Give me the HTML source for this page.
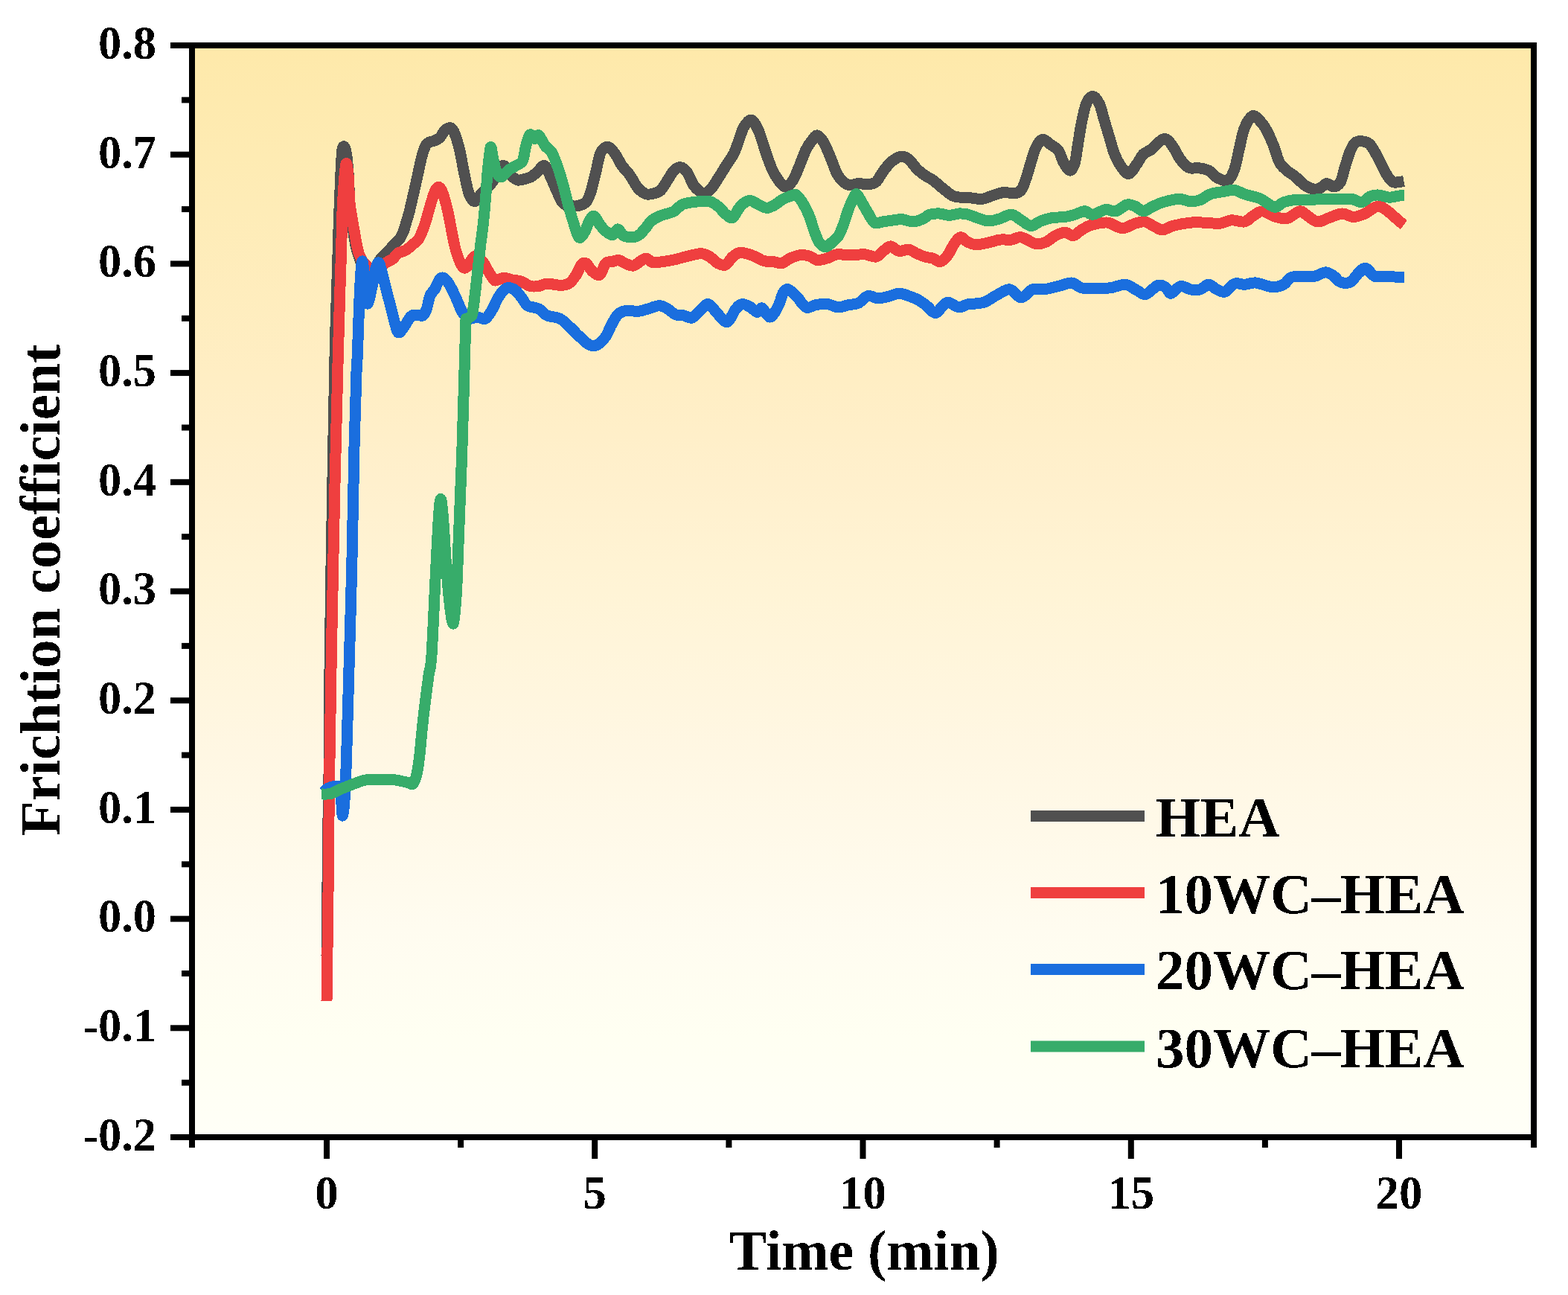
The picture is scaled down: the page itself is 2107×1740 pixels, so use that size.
<!DOCTYPE html><html><head><meta charset="utf-8"><title>Friction coefficient vs time</title><style>
html,body{margin:0;padding:0;background:#fff;}body{width:2107px;height:1740px;overflow:hidden;}
svg{display:block;}text{font-family:"Liberation Serif","Times New Roman",serif;font-weight:bold;fill:#000;}
</style></head><body>
<svg width="2107" height="1740" viewBox="0 0 2107 1740">
<defs><linearGradient id="bg" x1="0" y1="0" x2="0" y2="1">
<stop offset="0" stop-color="rgb(254, 233, 170)"/>
<stop offset="0.15" stop-color="rgb(254, 236, 183)"/>
<stop offset="0.306" stop-color="rgb(255, 238, 196)"/>
<stop offset="0.4" stop-color="rgb(255, 240, 205)"/>
<stop offset="0.5" stop-color="rgb(255, 244, 214)"/>
<stop offset="0.647" stop-color="rgb(255, 247, 227)"/>
<stop offset="0.81" stop-color="rgb(255, 252, 240)"/>
<stop offset="0.91" stop-color="rgb(255, 255, 242)"/>
<stop offset="0.98" stop-color="rgb(255, 255, 246)"/>
<stop offset="1" stop-color="rgb(255, 255, 247)"/>
</linearGradient>
<filter id="crisp" x="0" y="0" width="1" height="1" color-interpolation-filters="sRGB"><feComponentTransfer><feFuncA type="discrete" tableValues="0 1"/></feComponentTransfer></filter>
</defs>
<rect x="0" y="0" width="2107" height="1740" fill="#fff"/>
<rect x="258" y="61" width="1803" height="1467" fill="url(#bg)"/>
<g fill="none" stroke-width="15" stroke-linejoin="round" stroke-linecap="butt" shape-rendering="crispEdges">
<path stroke="#505050" d="M439.0,1284.0 C439.3,1253.3 440.4,1144.0 441.0,1100.0 C441.6,1056.0 442.0,1053.3 442.3,1020.0 C442.6,986.7 442.4,953.3 443.0,900.0 C443.6,846.7 444.8,770.0 446.0,700.0 C447.2,630.0 448.8,534.0 450.0,480.0 C451.2,426.0 452.1,406.8 453.0,376.0 C453.9,345.2 454.6,318.0 455.4,295.0 C456.2,272.0 457.0,253.0 457.7,238.0 C458.4,223.0 458.9,211.8 459.5,205.0 C460.1,198.2 460.6,197.8 461.3,197.0 C462.1,196.2 463.1,197.0 464.0,200.0 C464.9,203.0 465.8,208.3 466.5,215.0 C467.2,221.7 467.9,230.5 468.5,240.0 C469.1,249.5 469.1,261.0 470.0,272.0 C470.9,283.0 472.7,296.3 474.0,306.0 C475.3,315.7 476.8,324.2 478.0,330.0 C479.2,335.8 479.8,337.3 481.0,341.0 C482.2,344.7 483.3,348.8 485.0,352.0 C486.7,355.2 488.7,358.2 491.0,360.0 C493.3,361.8 496.5,363.5 499.0,363.0 C501.5,362.5 503.8,359.7 506.0,357.0 C508.2,354.3 509.8,349.8 512.0,347.0 C514.2,344.2 516.7,342.4 519.0,340.0 C521.3,337.6 523.9,334.9 525.9,332.7 C527.9,330.5 529.2,328.9 531.0,327.0 C532.8,325.1 535.0,324.1 536.9,321.2 C538.8,318.3 541.1,313.6 542.6,309.7 C544.1,305.8 544.9,301.8 546.0,298.0 C547.1,294.2 548.0,292.4 549.5,286.7 C551.0,281.0 553.1,271.3 554.9,263.6 C556.7,255.9 558.4,248.3 560.1,240.6 C561.8,232.9 563.8,223.3 565.1,217.6 C566.4,211.8 566.8,209.9 568.0,206.1 C569.2,202.2 571.1,197.0 572.6,194.5 C574.1,192.0 575.3,191.8 577.0,191.0 C578.7,190.2 581.1,190.1 582.9,189.4 C584.7,188.7 586.5,188.0 588.0,187.0 C589.5,186.0 590.6,185.4 592.1,183.6 C593.6,181.8 595.5,177.8 597.0,176.0 C598.5,174.2 599.8,173.3 601.3,172.6 C602.8,171.9 604.5,171.1 606.0,172.0 C607.5,172.9 608.6,173.6 610.4,178.0 C612.2,182.4 614.8,189.6 617.0,198.5 C619.2,207.4 621.3,221.1 623.5,231.3 C625.7,241.5 627.6,253.1 630.0,259.7 C632.4,266.3 635.1,270.3 637.7,270.7 C640.3,271.1 642.3,265.3 645.4,262.0 C648.5,258.7 653.0,254.7 656.3,251.0 C659.6,247.3 661.7,244.8 665.0,240.0 C668.3,235.2 672.3,223.2 676.0,222.5 C679.7,221.8 683.7,232.4 687.0,235.7 C690.3,238.9 692.4,241.3 695.7,242.0 C699.0,242.7 703.8,240.7 706.7,240.0 C709.6,239.3 710.5,239.3 713.0,237.9 C715.5,236.5 718.8,233.9 721.9,231.3 C725.0,228.7 728.7,221.4 731.7,222.5 C734.7,223.6 737.4,232.6 740.0,238.0 C742.6,243.4 745.0,249.5 747.5,255.0 C750.0,260.5 752.4,267.3 755.0,271.0 C757.6,274.7 760.5,276.0 763.0,277.0 C765.5,278.0 767.7,277.1 770.0,277.0 C772.3,276.9 774.1,277.4 777.0,276.5 C779.9,275.6 784.7,274.7 787.5,271.5 C790.3,268.3 791.8,264.2 794.0,257.5 C796.2,250.8 798.5,240.1 800.7,231.3 C802.9,222.6 804.5,210.7 807.2,205.0 C809.9,199.3 813.7,197.0 817.0,197.4 C820.3,197.8 823.8,203.0 826.9,207.2 C830.0,211.4 832.4,217.8 835.7,222.5 C839.0,227.2 843.0,230.6 846.6,235.7 C850.2,240.8 853.9,248.8 857.5,253.0 C861.1,257.2 864.9,259.7 868.5,260.8 C872.1,261.9 876.1,260.6 879.4,259.7 C882.7,258.8 885.3,258.3 888.2,255.4 C891.1,252.5 894.1,246.6 897.0,242.2 C899.9,237.8 902.8,232.0 905.7,229.1 C908.6,226.2 911.5,224.3 914.4,224.7 C917.3,225.1 920.3,227.3 923.2,231.3 C926.1,235.3 929.1,244.4 932.0,248.8 C934.9,253.2 938.2,255.7 940.7,257.5 C943.2,259.3 944.8,260.4 947.3,259.7 C949.8,259.0 953.1,256.5 956.0,253.2 C958.9,249.9 961.5,245.1 964.8,240.0 C968.1,234.9 972.1,228.3 975.7,222.5 C979.4,216.7 983.4,211.9 986.7,205.0 C990.0,198.1 993.2,186.8 995.4,181.0 C997.6,175.2 997.6,173.3 1000.0,170.0 C1002.4,166.7 1006.5,160.2 1009.8,161.3 C1013.1,162.4 1016.6,169.7 1019.7,176.6 C1022.8,183.5 1025.5,194.4 1028.4,202.8 C1031.3,211.2 1034.3,220.3 1037.2,226.9 C1040.1,233.5 1042.9,238.2 1046.0,242.2 C1049.1,246.2 1052.5,251.0 1055.8,251.0 C1059.1,251.0 1062.5,246.9 1065.6,242.2 C1068.7,237.4 1071.5,229.4 1074.4,222.5 C1077.3,215.6 1080.3,206.5 1083.2,200.7 C1086.1,194.9 1089.4,190.6 1091.9,187.5 C1094.5,184.4 1096.0,181.3 1098.5,182.0 C1101.0,182.7 1104.3,187.0 1107.2,191.9 C1110.1,196.8 1113.1,204.7 1116.0,211.6 C1118.9,218.5 1121.8,228.0 1124.7,233.5 C1127.6,239.0 1130.6,241.8 1133.5,244.4 C1136.4,247.0 1138.9,248.4 1142.2,248.8 C1145.5,249.2 1149.2,246.8 1153.2,246.6 C1157.2,246.4 1162.3,248.1 1166.3,247.7 C1170.3,247.3 1173.9,247.1 1177.2,244.4 C1180.5,241.7 1182.7,235.7 1186.0,231.3 C1189.3,226.9 1192.9,221.7 1196.9,218.2 C1200.9,214.7 1206.0,211.2 1210.0,210.5 C1214.0,209.8 1217.3,211.1 1221.0,213.8 C1224.7,216.5 1228.3,223.2 1232.0,226.9 C1235.7,230.6 1239.3,233.1 1242.9,235.7 C1246.5,238.2 1249.8,239.3 1253.8,242.2 C1257.8,245.1 1262.6,249.7 1267.0,253.2 C1271.4,256.7 1276.0,261.0 1280.0,263.0 C1284.0,265.0 1287.7,264.8 1291.0,265.2 C1294.3,265.6 1295.2,264.8 1300.0,265.2 C1304.8,265.6 1314.2,267.8 1319.7,267.4 C1325.2,267.0 1328.1,264.5 1332.8,263.0 C1337.5,261.5 1343.0,259.2 1348.1,258.6 C1353.2,258.1 1359.5,260.2 1363.5,259.7 C1367.5,259.2 1369.7,258.7 1372.2,255.4 C1374.8,252.1 1376.6,246.2 1378.8,240.0 C1381.0,233.8 1383.1,225.1 1385.3,218.2 C1387.5,211.3 1389.3,203.6 1391.9,198.5 C1394.5,193.4 1397.4,188.2 1400.7,187.5 C1404.0,186.8 1408.0,191.4 1411.6,194.0 C1415.2,196.6 1419.6,198.8 1422.5,202.8 C1425.4,206.8 1426.5,213.8 1429.1,218.2 C1431.7,222.6 1435.4,229.1 1437.9,229.1 C1440.5,229.1 1442.6,224.4 1444.4,218.2 C1446.2,212.0 1447.3,200.7 1448.8,191.9 C1450.3,183.1 1451.4,174.3 1453.2,165.6 C1455.0,156.8 1457.2,145.4 1459.7,139.4 C1462.2,133.4 1465.6,129.5 1468.5,129.5 C1471.4,129.5 1474.7,134.1 1477.2,139.4 C1479.8,144.7 1481.6,154.0 1483.8,161.3 C1486.0,168.6 1488.2,175.9 1490.4,183.2 C1492.6,190.5 1494.4,198.4 1496.9,205.0 C1499.5,211.6 1502.4,217.8 1505.7,222.5 C1509.0,227.2 1512.9,233.8 1516.6,233.5 C1520.2,233.2 1524.3,224.8 1527.6,220.4 C1530.9,216.0 1533.0,210.5 1536.3,207.2 C1539.6,203.9 1544.0,203.2 1547.3,200.7 C1550.6,198.1 1552.9,194.3 1556.0,191.9 C1559.1,189.5 1562.6,185.7 1565.9,186.4 C1569.2,187.1 1572.6,192.1 1575.7,196.3 C1578.8,200.5 1581.6,207.2 1584.5,211.6 C1587.4,216.0 1590.6,220.1 1593.2,222.5 C1595.8,224.9 1597.0,225.4 1600.0,226.0 C1603.0,226.6 1607.0,225.3 1611.0,225.8 C1615.0,226.3 1620.4,227.3 1624.0,229.1 C1627.6,230.9 1630.0,234.8 1632.8,236.8 C1635.5,238.8 1637.6,240.2 1640.5,241.1 C1643.4,242.0 1647.2,244.6 1650.3,242.2 C1653.4,239.8 1656.5,234.2 1659.0,226.9 C1661.5,219.6 1663.4,207.6 1665.6,198.5 C1667.8,189.4 1669.3,179.3 1672.2,172.2 C1675.1,165.1 1679.6,157.2 1683.2,155.8 C1686.8,154.4 1690.7,160.0 1694.0,163.5 C1697.3,167.0 1699.9,171.1 1702.8,176.6 C1705.7,182.1 1708.8,189.4 1711.6,196.3 C1714.3,203.2 1716.4,212.7 1719.3,218.2 C1722.2,223.7 1725.6,226.0 1729.1,229.1 C1732.5,232.2 1736.0,233.5 1740.0,236.8 C1744.0,240.1 1748.8,245.9 1753.2,248.8 C1757.6,251.7 1762.7,253.8 1766.3,254.3 C1769.9,254.8 1772.3,253.3 1775.0,252.0 C1777.7,250.7 1779.8,246.8 1782.7,246.6 C1785.6,246.4 1789.5,251.4 1792.6,251.0 C1795.7,250.6 1798.8,249.2 1801.3,244.4 C1803.8,239.7 1805.7,229.4 1807.9,222.5 C1810.1,215.6 1812.2,207.9 1814.4,202.8 C1816.6,197.7 1818.4,194.1 1821.0,191.9 C1823.6,189.7 1826.5,189.3 1829.8,189.7 C1833.1,190.0 1837.1,190.3 1840.7,194.0 C1844.3,197.7 1847.9,205.0 1851.6,211.6 C1855.2,218.2 1859.3,228.0 1862.6,233.5 C1865.9,239.0 1868.4,242.6 1871.3,244.4 C1874.2,246.2 1877.5,244.6 1880.0,244.4 C1882.5,244.2 1885.4,243.7 1886.5,243.5"/>
<path stroke="#EF3F3F" d="M439.0,1345.0 C439.3,1320.8 440.5,1240.8 441.0,1200.0 C441.5,1159.2 441.7,1130.0 442.0,1100.0 C442.3,1070.0 442.4,1056.7 443.0,1020.0 C443.6,983.3 444.1,941.7 445.3,880.0 C446.5,818.3 448.5,717.2 450.0,650.0 C451.5,582.8 453.1,522.7 454.3,477.0 C455.5,431.3 456.6,400.5 457.3,376.0 C458.1,351.5 458.4,343.5 458.8,330.0 C459.2,316.5 459.1,308.5 459.6,295.0 C460.1,281.5 461.1,261.5 462.0,249.0 C462.9,236.5 464.0,222.3 465.0,220.0 C466.0,217.7 467.2,226.3 468.0,235.0 C468.8,243.7 468.8,260.0 470.0,272.0 C471.2,284.0 473.9,297.3 475.5,307.0 C477.1,316.7 478.5,324.3 479.6,330.0 C480.8,335.7 481.0,337.3 482.4,341.0 C483.8,344.7 485.6,348.8 488.0,352.0 C490.4,355.2 494.2,358.8 497.0,360.0 C499.8,361.2 502.0,359.8 505.0,359.0 C508.0,358.2 512.3,356.2 515.0,355.0 C517.7,353.8 518.8,352.8 521.0,351.6 C523.2,350.4 525.7,349.6 528.0,347.7 C530.3,345.8 532.1,341.9 535.0,340.0 C537.9,338.1 541.8,338.3 545.2,336.2 C548.7,334.1 552.9,330.0 555.7,327.6 C558.5,325.2 560.1,324.6 562.0,322.0 C563.9,319.4 565.3,316.0 567.0,312.0 C568.7,308.0 570.1,304.2 572.0,298.0 C573.9,291.8 576.5,281.7 578.5,275.0 C580.5,268.3 582.3,261.9 584.0,258.0 C585.7,254.1 587.1,251.8 588.7,251.5 C590.3,251.2 591.7,252.1 593.5,256.0 C595.3,259.9 597.9,268.5 599.6,275.0 C601.4,281.5 602.6,288.2 604.0,295.0 C605.4,301.8 606.5,308.8 608.0,316.0 C609.5,323.2 610.8,331.0 613.0,338.0 C615.2,345.0 618.8,354.6 621.3,358.0 C623.8,361.4 625.3,360.4 627.9,358.2 C630.5,356.0 633.8,346.7 636.6,345.0 C639.5,343.3 642.6,346.3 645.0,348.0 C647.4,349.7 649.2,352.3 651.0,355.0 C652.8,357.7 654.3,361.2 656.0,364.0 C657.7,366.8 659.5,369.8 661.0,372.0 C662.5,374.2 663.5,376.4 665.0,377.0 C666.5,377.6 668.2,376.1 670.0,375.5 C671.8,374.9 674.2,373.9 676.0,373.6 C677.8,373.4 679.0,373.6 681.0,374.0 C683.0,374.4 685.0,375.4 688.0,376.0 C691.0,376.6 696.0,376.8 699.0,377.6 C702.0,378.4 703.8,379.9 706.0,381.0 C708.2,382.1 709.0,383.9 712.0,384.5 C715.0,385.1 720.2,385.1 724.0,384.5 C727.8,383.9 729.9,381.4 735.0,381.2 C740.1,381.0 749.6,383.6 754.7,383.4 C759.8,383.2 762.3,382.4 765.6,380.0 C768.9,377.6 771.8,373.2 774.4,369.2 C777.0,365.2 778.8,358.6 781.0,356.0 C783.2,353.4 785.0,352.3 787.5,353.8 C790.0,355.3 793.2,362.2 796.3,364.8 C799.4,367.4 803.2,371.0 806.1,369.2 C809.0,367.4 811.1,356.7 813.8,353.8 C816.5,350.9 819.6,352.3 822.5,351.6 C825.4,350.9 828.4,349.1 831.3,349.5 C834.2,349.9 836.7,352.5 840.0,353.8 C843.3,355.1 847.7,357.5 851.0,357.1 C854.3,356.7 856.8,353.2 859.7,351.6 C862.6,350.0 865.6,347.1 868.5,347.3 C871.4,347.5 873.6,352.0 877.2,352.7 C880.9,353.4 886.0,352.1 890.4,351.6 C894.8,351.1 899.1,350.4 903.5,349.5 C907.9,348.6 912.2,347.3 916.6,346.2 C921.0,345.1 925.4,343.8 929.8,342.9 C934.2,342.0 938.9,340.3 942.9,340.7 C946.9,341.1 950.1,342.8 953.8,345.0 C957.4,347.2 961.3,352.0 964.8,353.8 C968.3,355.6 971.3,357.5 974.6,356.0 C977.9,354.5 981.4,347.7 984.5,345.0 C987.6,342.3 990.6,340.4 993.2,339.6 C995.8,338.8 996.7,339.3 1000.0,340.0 C1003.3,340.7 1008.6,342.2 1013.0,344.0 C1017.4,345.8 1021.9,349.2 1026.3,350.5 C1030.7,351.8 1035.4,351.1 1039.4,351.6 C1043.4,352.2 1046.7,354.5 1050.3,353.8 C1053.9,353.1 1057.3,349.1 1061.3,347.3 C1065.3,345.5 1070.0,343.4 1074.4,342.9 C1078.8,342.3 1083.5,342.9 1087.5,344.0 C1091.5,345.1 1094.1,349.1 1098.5,349.5 C1102.9,349.9 1109.4,347.5 1113.8,346.2 C1118.2,344.9 1120.0,342.4 1124.7,341.8 C1129.4,341.2 1136.0,342.9 1142.2,342.9 C1148.4,342.9 1156.1,341.4 1161.9,341.8 C1167.7,342.2 1172.8,345.9 1177.2,345.0 C1181.6,344.1 1184.9,338.7 1188.2,336.3 C1191.5,333.9 1193.7,330.7 1197.0,330.9 C1200.3,331.1 1203.9,336.7 1207.9,337.4 C1211.9,338.1 1217.0,334.6 1221.0,335.2 C1225.0,335.8 1228.3,339.1 1232.0,340.7 C1235.7,342.3 1239.3,343.9 1242.9,345.0 C1246.5,346.1 1250.3,346.2 1253.8,347.3 C1257.3,348.4 1260.4,352.3 1263.7,351.6 C1267.0,350.9 1270.4,346.9 1273.5,342.9 C1276.6,338.9 1279.4,331.6 1282.3,327.6 C1285.2,323.6 1288.0,319.2 1291.0,318.8 C1294.0,318.4 1296.7,323.4 1300.0,325.0 C1303.3,326.6 1306.6,328.4 1311.0,328.7 C1315.4,328.9 1320.8,327.6 1326.3,326.5 C1331.8,325.4 1338.3,322.8 1343.8,322.1 C1349.2,321.4 1354.3,322.7 1359.0,322.1 C1363.7,321.6 1366.7,317.9 1372.2,318.8 C1377.7,319.7 1386.4,326.5 1391.9,327.6 C1397.4,328.7 1400.6,327.2 1405.0,325.4 C1409.4,323.6 1413.8,318.8 1418.2,316.6 C1422.6,314.4 1427.3,312.3 1431.3,312.3 C1435.3,312.3 1438.5,317.2 1442.2,316.6 C1445.9,316.1 1449.2,311.4 1453.2,309.0 C1457.2,306.6 1460.5,304.0 1466.3,302.4 C1472.1,300.8 1481.3,298.4 1488.2,299.1 C1495.1,299.8 1501.7,306.6 1507.9,306.8 C1514.1,307.0 1520.3,301.7 1525.4,300.2 C1530.5,298.7 1534.1,297.3 1538.5,298.0 C1542.9,298.7 1547.6,302.8 1551.6,304.6 C1555.6,306.4 1558.6,309.2 1562.6,309.0 C1566.6,308.8 1569.5,305.1 1575.7,303.5 C1581.9,301.9 1593.0,299.8 1600.0,299.1 C1607.0,298.4 1610.9,298.9 1617.5,299.1 C1624.1,299.3 1633.2,300.8 1639.4,300.2 C1645.6,299.6 1649.2,296.2 1654.7,295.8 C1660.2,295.4 1667.5,298.9 1672.2,298.0 C1677.0,297.1 1679.2,292.8 1683.2,290.4 C1687.2,288.0 1691.6,283.8 1696.3,283.8 C1701.0,283.8 1706.1,288.8 1711.6,290.4 C1717.1,292.0 1723.3,294.8 1729.1,293.7 C1734.9,292.6 1741.9,284.4 1746.6,283.8 C1751.3,283.2 1753.5,288.0 1757.5,290.4 C1761.5,292.8 1766.0,297.6 1770.7,298.0 C1775.5,298.4 1780.5,294.4 1786.0,292.6 C1791.5,290.8 1798.0,287.2 1803.5,287.0 C1809.0,286.8 1813.7,291.5 1818.8,291.5 C1823.9,291.5 1828.6,289.4 1834.1,287.0 C1839.6,284.6 1846.5,277.7 1851.6,277.2 C1856.7,276.7 1860.1,280.5 1864.8,283.8 C1869.5,287.1 1876.4,294.0 1880.0,297.0 C1883.6,300.0 1885.4,301.2 1886.5,302.0"/>
<path stroke="#1A6EDE" d="M435.0,1064.5 C435.8,1063.7 437.7,1060.8 440.0,1059.5 C442.3,1058.2 446.5,1056.9 449.0,1056.5 C451.5,1056.1 453.5,1055.4 455.0,1057.0 C456.5,1058.6 457.3,1062.2 458.0,1066.0 C458.7,1069.8 458.6,1075.0 459.0,1080.0 C459.4,1085.0 459.8,1096.8 460.5,1096.0 C461.2,1095.2 462.2,1087.7 463.0,1075.0 C463.8,1062.3 464.4,1052.5 465.5,1020.0 C466.6,987.5 468.2,925.0 469.5,880.0 C470.8,835.0 471.9,796.7 473.0,750.0 C474.1,703.3 475.0,641.7 476.0,600.0 C477.0,558.3 478.3,520.5 479.0,500.0 C479.7,479.5 480.0,487.0 480.4,477.0 C480.8,467.0 481.1,450.2 481.5,440.0 C481.9,429.8 482.1,426.0 482.5,416.0 C482.9,406.0 483.3,390.8 484.0,380.0 C484.7,369.2 485.7,351.8 486.7,351.0 C487.7,350.2 488.9,365.5 490.0,375.0 C491.1,384.5 491.9,406.3 493.6,408.0 C495.3,409.7 498.1,393.0 500.0,385.0 C501.9,377.0 503.5,365.3 505.0,360.0 C506.5,354.7 507.7,352.2 509.0,353.0 C510.3,353.8 511.5,359.7 513.0,365.0 C514.5,370.3 515.8,376.5 518.0,385.0 C520.2,393.5 523.7,407.2 526.0,416.0 C528.3,424.8 529.9,432.8 531.6,438.0 C533.3,443.2 534.0,447.0 536.0,447.0 C538.0,447.0 541.0,441.7 543.7,438.0 C546.4,434.3 549.4,427.5 552.3,425.0 C555.2,422.5 558.4,423.2 561.0,423.0 C563.6,422.8 566.0,425.2 568.0,424.0 C570.0,422.8 571.3,420.5 573.0,416.0 C574.7,411.5 576.2,401.5 578.0,397.0 C579.8,392.5 581.9,392.4 584.0,388.8 C586.1,385.2 588.7,378.2 590.7,375.7 C592.7,373.1 593.9,372.4 596.1,373.5 C598.3,374.6 601.0,377.9 603.8,382.3 C606.5,386.7 609.7,393.6 612.6,399.8 C615.5,406.0 618.4,414.8 621.3,419.5 C624.2,424.2 626.7,427.1 630.0,428.2 C633.3,429.3 637.3,426.0 641.0,426.0 C644.7,426.0 648.7,429.6 652.0,428.2 C655.3,426.8 657.8,422.0 660.7,417.3 C663.6,412.6 666.6,404.6 669.5,399.8 C672.4,395.1 675.7,391.0 678.2,388.8 C680.8,386.6 682.2,386.3 684.8,386.7 C687.3,387.1 690.6,388.4 693.5,391.0 C696.4,393.6 699.8,398.7 702.3,402.0 C704.8,405.3 705.2,408.5 708.8,410.7 C712.4,412.9 719.6,412.8 724.0,415.0 C728.4,417.2 730.2,421.7 735.0,423.9 C739.8,426.1 747.4,425.6 752.5,428.2 C757.6,430.8 761.2,435.2 765.6,439.2 C770.0,443.2 774.4,448.3 778.8,452.3 C783.2,456.3 787.9,461.4 791.9,463.2 C795.9,465.0 799.1,465.0 802.8,463.2 C806.4,461.4 810.5,457.0 813.8,452.3 C817.1,447.6 819.6,439.9 822.5,434.8 C825.4,429.7 828.0,424.6 831.3,421.7 C834.6,418.8 837.8,417.9 842.2,417.3 C846.6,416.8 852.8,418.8 857.5,418.4 C862.2,418.0 866.0,416.3 870.7,415.0 C875.5,413.7 881.6,410.7 886.0,410.7 C890.4,410.7 893.4,413.0 897.0,415.0 C900.6,417.0 904.3,421.3 907.9,422.8 C911.5,424.3 915.1,423.2 918.8,423.9 C922.4,424.6 926.1,428.2 929.8,427.1 C933.4,426.0 937.1,420.4 940.7,417.3 C944.3,414.2 948.0,408.1 951.6,408.5 C955.2,408.9 958.4,415.5 962.6,419.5 C966.8,423.5 972.4,433.4 976.8,432.6 C981.2,431.9 985.3,419.0 988.8,415.0 C992.3,411.0 994.3,408.8 997.6,408.5 C1000.9,408.2 1005.5,411.2 1008.8,413.0 C1012.1,414.8 1015.0,419.3 1017.5,419.5 C1020.0,419.7 1021.1,412.9 1024.0,414.0 C1026.9,415.1 1031.3,426.6 1035.0,426.0 C1038.7,425.4 1043.1,416.2 1046.0,410.7 C1048.9,405.2 1050.3,396.8 1052.5,393.2 C1054.7,389.6 1056.1,388.1 1059.0,388.8 C1061.9,389.5 1066.0,393.6 1070.0,397.6 C1074.0,401.6 1078.8,411.0 1083.2,413.0 C1087.6,415.0 1091.6,410.4 1096.3,409.6 C1101.0,408.9 1106.5,407.9 1111.6,408.5 C1116.7,409.1 1122.2,412.8 1126.9,413.0 C1131.6,413.2 1135.6,410.5 1140.0,409.6 C1144.4,408.7 1148.8,409.4 1153.2,407.4 C1157.6,405.4 1161.9,398.7 1166.3,397.6 C1170.7,396.5 1175.0,400.7 1179.4,400.9 C1183.8,401.1 1187.8,399.8 1192.6,398.7 C1197.3,397.6 1203.2,394.5 1207.9,394.3 C1212.6,394.1 1216.7,396.2 1221.0,397.6 C1225.3,399.1 1230.0,400.8 1234.0,403.0 C1238.0,405.2 1241.2,407.8 1245.0,410.7 C1248.8,413.6 1253.3,420.6 1257.0,420.6 C1260.7,420.6 1264.1,413.1 1267.0,410.7 C1269.9,408.3 1271.0,405.9 1274.6,406.3 C1278.2,406.7 1284.6,412.6 1288.8,413.0 C1293.0,413.4 1294.5,410.1 1300.0,409.0 C1305.5,407.9 1315.3,408.4 1321.9,406.3 C1328.5,404.2 1333.6,399.4 1339.4,396.5 C1345.2,393.6 1351.4,388.2 1356.9,388.8 C1362.4,389.4 1367.1,399.8 1372.2,399.8 C1377.3,399.8 1382.4,390.6 1387.5,388.8 C1392.6,387.0 1397.0,389.5 1402.8,388.8 C1408.6,388.1 1416.3,386.0 1422.5,384.5 C1428.7,383.0 1434.9,379.6 1440.0,380.0 C1445.1,380.4 1448.1,385.4 1453.2,386.7 C1458.3,388.0 1464.1,387.7 1470.7,387.7 C1477.3,387.7 1485.7,387.6 1492.6,386.7 C1499.5,385.8 1506.5,381.8 1512.3,382.3 C1518.1,382.9 1523.0,387.8 1527.6,390.0 C1532.1,392.2 1534.9,396.5 1539.6,395.4 C1544.3,394.3 1551.4,384.8 1556.0,383.4 C1560.6,381.9 1564.1,384.9 1567.0,386.7 C1569.9,388.5 1570.2,394.7 1573.5,394.3 C1576.8,393.9 1582.2,385.4 1586.6,384.5 C1591.0,383.6 1595.6,388.3 1600.0,389.0 C1604.4,389.7 1609.0,389.9 1613.0,388.8 C1617.0,387.7 1620.3,382.3 1624.0,382.3 C1627.7,382.3 1631.3,387.2 1635.0,388.8 C1638.7,390.4 1642.0,393.4 1646.0,392.1 C1650.0,390.8 1654.6,382.8 1659.0,381.2 C1663.4,379.6 1667.5,382.5 1672.2,382.3 C1677.0,382.1 1681.3,379.4 1687.5,380.0 C1693.7,380.6 1703.2,385.2 1709.4,385.6 C1715.6,386.0 1720.3,384.5 1724.7,382.3 C1729.1,380.1 1731.0,374.2 1735.7,372.4 C1740.5,370.6 1748.1,371.5 1753.2,371.3 C1758.3,371.1 1761.6,372.2 1766.3,371.3 C1771.0,370.4 1777.2,365.9 1781.6,365.9 C1786.0,365.9 1789.3,369.1 1792.6,371.3 C1795.9,373.5 1797.7,377.7 1801.3,379.0 C1804.9,380.3 1810.4,381.0 1814.4,379.0 C1818.4,377.0 1821.9,370.1 1825.4,367.0 C1828.9,363.9 1831.6,359.7 1835.2,360.4 C1838.8,361.1 1842.7,369.5 1847.3,371.3 C1851.9,373.1 1857.1,371.1 1862.6,371.3 C1868.0,371.5 1876.0,372.2 1880.0,372.4 C1884.0,372.6 1885.4,372.6 1886.5,372.6"/>
<path stroke="#37AC6A" d="M432.0,1067.0 C434.0,1066.9 440.0,1067.5 444.0,1066.5 C448.0,1065.5 451.3,1063.0 456.0,1061.0 C460.7,1059.0 466.5,1056.6 472.0,1054.5 C477.5,1052.4 484.3,1049.7 489.0,1048.5 C493.7,1047.3 494.8,1047.7 500.0,1047.5 C505.2,1047.3 514.7,1047.4 520.0,1047.5 C525.3,1047.6 527.0,1047.3 531.7,1048.0 C536.4,1048.7 544.4,1050.7 548.3,1051.5 C552.2,1052.3 553.0,1054.9 555.0,1053.0 C557.0,1051.1 558.6,1045.8 560.0,1040.0 C561.4,1034.2 562.0,1030.8 563.5,1018.0 C565.0,1005.2 566.9,981.4 569.0,963.0 C571.1,944.6 574.2,921.5 576.0,907.7 C577.8,893.9 578.3,905.0 580.0,880.0 C581.7,855.0 584.2,792.2 586.0,758.0 C587.8,723.8 589.5,686.3 591.0,675.0 C592.5,663.7 593.6,676.2 595.0,690.0 C596.4,703.8 598.0,738.0 599.5,758.0 C601.0,778.0 602.5,796.7 604.0,810.0 C605.5,823.3 607.4,837.2 608.7,838.0 C610.0,838.8 611.1,823.9 612.0,815.0 C612.9,806.1 613.3,798.5 614.0,784.5 C614.7,770.5 614.8,761.8 616.0,731.0 C617.2,700.2 619.4,647.7 621.0,600.0 C622.6,552.3 624.5,473.3 625.5,445.0 C626.5,416.7 625.6,433.5 627.0,430.0 C628.4,426.5 632.5,426.7 634.0,424.0 C635.5,421.3 635.3,418.3 636.0,414.0 C636.7,409.7 637.3,403.7 638.0,398.0 C638.7,392.3 638.9,390.9 640.1,380.0 C641.3,369.1 643.7,346.4 645.3,332.8 C646.9,319.2 648.4,309.8 649.6,298.3 C650.8,286.8 651.8,275.2 652.7,263.7 C653.7,252.2 654.5,238.0 655.3,229.1 C656.1,220.2 656.8,215.3 657.5,210.0 C658.2,204.7 658.7,196.8 659.6,197.4 C660.5,198.0 661.6,208.2 662.9,213.8 C664.2,219.5 665.5,227.3 667.3,231.3 C669.1,235.3 671.2,238.3 673.8,237.9 C676.3,237.5 679.3,231.7 682.6,229.1 C685.9,226.5 690.2,224.7 693.5,222.5 C696.8,220.3 700.1,220.4 702.3,216.0 C704.5,211.6 705.0,202.1 706.6,196.3 C708.2,190.5 710.0,182.7 712.0,181.0 C714.0,179.3 716.6,186.2 718.6,186.4 C720.6,186.6 721.6,180.3 724.0,182.0 C726.4,183.7 729.9,192.5 732.8,196.3 C735.7,200.1 738.7,199.9 741.6,205.0 C744.5,210.1 747.8,219.7 750.3,227.0 C752.8,234.3 754.7,240.8 756.9,248.8 C759.1,256.8 761.3,267.0 763.5,275.0 C765.7,283.0 767.6,289.7 770.0,297.0 C772.4,304.3 775.2,316.2 777.7,318.8 C780.2,321.4 782.9,315.9 785.3,312.3 C787.7,308.7 789.7,300.6 791.9,297.0 C794.1,293.4 796.0,289.3 798.5,290.4 C801.0,291.5 804.3,299.9 807.2,303.5 C810.1,307.1 813.3,310.3 816.0,312.3 C818.7,314.3 821.2,316.2 823.6,315.5 C826.0,314.8 827.8,307.7 830.2,307.9 C832.6,308.1 834.8,314.8 837.9,316.6 C841.0,318.4 845.5,318.8 848.8,318.8 C852.1,318.8 854.6,318.4 857.5,316.6 C860.4,314.8 863.4,311.2 866.3,307.9 C869.2,304.6 871.7,299.9 875.0,297.0 C878.3,294.1 882.3,292.1 886.0,290.4 C889.7,288.7 893.7,288.1 897.0,287.0 C900.3,285.9 902.4,285.8 905.7,283.8 C909.0,281.8 912.6,277.0 916.6,275.0 C920.6,273.0 925.8,272.5 929.8,271.8 C933.8,271.1 936.7,270.9 940.7,270.7 C944.7,270.5 949.8,269.6 953.8,270.7 C957.8,271.8 961.1,274.3 964.8,277.2 C968.4,280.1 972.4,285.6 975.7,288.2 C979.0,290.8 981.6,294.1 984.5,292.6 C987.4,291.1 990.4,282.9 993.2,279.4 C996.0,275.9 998.9,273.1 1001.5,271.5 C1004.1,269.9 1005.8,269.0 1008.8,269.6 C1011.8,270.2 1016.1,273.4 1019.7,275.0 C1023.3,276.6 1026.9,279.4 1030.6,279.4 C1034.2,279.4 1037.9,277.0 1041.6,275.0 C1045.2,273.0 1048.8,269.4 1052.5,267.4 C1056.2,265.4 1060.6,263.9 1063.5,263.0 C1066.4,262.1 1067.5,260.4 1070.0,262.0 C1072.5,263.6 1075.9,268.2 1078.8,272.9 C1081.7,277.6 1085.0,284.2 1087.5,290.4 C1090.0,296.6 1091.8,304.2 1094.0,310.0 C1096.2,315.8 1098.1,321.7 1100.7,325.4 C1103.3,329.1 1106.5,332.0 1109.4,332.0 C1112.3,332.0 1115.3,328.0 1118.2,325.4 C1121.1,322.8 1124.4,320.6 1126.9,316.6 C1129.5,312.6 1131.3,307.1 1133.5,301.3 C1135.7,295.5 1137.8,287.4 1140.0,281.6 C1142.2,275.8 1144.8,269.8 1146.6,266.3 C1148.4,262.8 1149.2,260.1 1151.0,260.8 C1152.8,261.5 1155.0,266.5 1157.5,270.7 C1160.0,274.9 1163.4,281.3 1166.3,286.0 C1169.2,290.7 1171.7,297.1 1175.0,299.1 C1178.3,301.1 1181.6,298.6 1186.0,298.0 C1190.4,297.4 1196.9,296.4 1201.3,295.8 C1205.7,295.2 1207.9,294.3 1212.3,294.7 C1216.7,295.1 1222.9,298.2 1227.6,298.0 C1232.3,297.8 1237.0,295.3 1240.7,293.7 C1244.4,292.1 1245.8,289.3 1249.5,288.2 C1253.2,287.1 1258.2,286.8 1262.6,287.0 C1267.0,287.2 1271.3,289.3 1275.7,289.3 C1280.1,289.3 1284.8,287.2 1288.8,287.0 C1292.8,286.8 1296.0,287.1 1300.0,288.0 C1304.0,288.9 1308.3,291.1 1313.0,292.6 C1317.7,294.1 1323.3,296.8 1328.4,297.0 C1333.5,297.2 1338.7,295.2 1343.8,293.7 C1348.9,292.2 1354.3,287.8 1359.0,288.2 C1363.7,288.6 1367.8,293.2 1372.2,295.8 C1376.6,298.4 1380.9,303.3 1385.3,303.5 C1389.7,303.7 1393.8,298.8 1398.5,297.0 C1403.2,295.2 1408.3,293.5 1413.8,292.6 C1419.3,291.7 1426.2,292.2 1431.3,291.5 C1436.4,290.8 1440.0,289.5 1444.4,288.2 C1448.8,286.9 1453.5,283.8 1457.5,283.8 C1461.5,283.8 1463.8,288.6 1468.5,288.2 C1473.2,287.8 1480.9,282.3 1486.0,281.6 C1491.1,280.9 1494.4,284.9 1499.1,283.8 C1503.8,282.7 1510.0,276.1 1514.4,275.0 C1518.8,273.9 1521.8,275.7 1525.4,277.2 C1529.1,278.7 1532.7,283.6 1536.3,283.8 C1539.9,284.0 1542.9,280.3 1547.3,278.3 C1551.7,276.3 1556.4,273.6 1562.6,271.8 C1568.8,270.0 1578.3,267.6 1584.5,267.4 C1590.7,267.2 1595.2,270.5 1600.0,270.7 C1604.8,270.9 1608.6,270.1 1613.0,268.5 C1617.4,266.9 1621.2,262.6 1626.3,260.8 C1631.4,259.0 1638.3,258.4 1643.8,257.5 C1649.2,256.6 1654.3,254.8 1659.0,255.4 C1663.7,256.0 1666.7,259.0 1672.2,260.8 C1677.7,262.6 1686.9,264.3 1692.0,266.3 C1697.1,268.3 1699.2,270.9 1702.8,272.9 C1706.4,274.9 1710.1,278.5 1713.8,278.3 C1717.5,278.1 1720.3,273.4 1724.7,271.8 C1729.1,270.2 1734.5,269.1 1740.0,268.5 C1745.5,267.9 1750.6,268.7 1757.5,268.5 C1764.4,268.3 1774.3,267.6 1781.6,267.4 C1788.9,267.2 1795.5,267.4 1801.3,267.4 C1807.1,267.4 1811.8,266.7 1816.6,267.4 C1821.3,268.1 1825.8,272.4 1829.8,271.8 C1833.8,271.2 1837.1,265.7 1840.7,264.1 C1844.3,262.5 1847.2,261.8 1851.6,262.0 C1856.0,262.2 1862.3,265.0 1867.0,265.2 C1871.7,265.4 1876.8,263.4 1880.0,263.0 C1883.2,262.6 1885.4,262.8 1886.5,262.8"/>
</g>
<rect x="258" y="61" width="1803" height="1467" fill="none" stroke="#000" stroke-width="8" stroke-linejoin="miter"/>
<g stroke="#000" stroke-width="8">
<line x1="229.0" y1="61.0" x2="258" y2="61.0"/>
<line x1="229.0" y1="207.7" x2="258" y2="207.7"/>
<line x1="229.0" y1="354.4" x2="258" y2="354.4"/>
<line x1="229.0" y1="501.1" x2="258" y2="501.1"/>
<line x1="229.0" y1="647.8" x2="258" y2="647.8"/>
<line x1="229.0" y1="794.5" x2="258" y2="794.5"/>
<line x1="229.0" y1="941.2" x2="258" y2="941.2"/>
<line x1="229.0" y1="1087.9" x2="258" y2="1087.9"/>
<line x1="229.0" y1="1234.6" x2="258" y2="1234.6"/>
<line x1="229.0" y1="1381.3" x2="258" y2="1381.3"/>
<line x1="229.0" y1="1528.0" x2="258" y2="1528.0"/>
<line x1="244.0" y1="134.4" x2="258" y2="134.4"/>
<line x1="244.0" y1="281.1" x2="258" y2="281.1"/>
<line x1="244.0" y1="427.8" x2="258" y2="427.8"/>
<line x1="244.0" y1="574.5" x2="258" y2="574.5"/>
<line x1="244.0" y1="721.2" x2="258" y2="721.2"/>
<line x1="244.0" y1="867.9" x2="258" y2="867.9"/>
<line x1="244.0" y1="1014.6" x2="258" y2="1014.6"/>
<line x1="244.0" y1="1161.3" x2="258" y2="1161.3"/>
<line x1="244.0" y1="1308.0" x2="258" y2="1308.0"/>
<line x1="244.0" y1="1454.7" x2="258" y2="1454.7"/>
<line x1="439.0" y1="1528" x2="439.0" y2="1557.0"/>
<line x1="799.2" y1="1528" x2="799.2" y2="1557.0"/>
<line x1="1159.5" y1="1528" x2="1159.5" y2="1557.0"/>
<line x1="1519.8" y1="1528" x2="1519.8" y2="1557.0"/>
<line x1="1880.0" y1="1528" x2="1880.0" y2="1557.0"/>
<line x1="258.0" y1="1528" x2="258.0" y2="1542.0"/>
<line x1="619.1" y1="1528" x2="619.1" y2="1542.0"/>
<line x1="979.4" y1="1528" x2="979.4" y2="1542.0"/>
<line x1="1339.6" y1="1528" x2="1339.6" y2="1542.0"/>
<line x1="1699.9" y1="1528" x2="1699.9" y2="1542.0"/>
<line x1="2061.0" y1="1528" x2="2061.0" y2="1542.0"/>
</g>
<g filter="url(#crisp)">
<g font-size="62.4" text-anchor="end">
<text x="210" y="78.8">0.8</text>
<text x="210" y="225.5">0.7</text>
<text x="210" y="372.2">0.6</text>
<text x="210" y="518.9">0.5</text>
<text x="210" y="665.6">0.4</text>
<text x="210" y="812.3">0.3</text>
<text x="210" y="959.0">0.2</text>
<text x="210" y="1105.7">0.1</text>
<text x="210" y="1252.4">0.0</text>
<text x="210" y="1399.1">-0.1</text>
<text x="210" y="1545.8">-0.2</text>
</g>
<g font-size="62.8" text-anchor="middle">
<text x="439.0" y="1624">0</text>
<text x="799.2" y="1624">5</text>
<text x="1159.5" y="1624">10</text>
<text x="1519.8" y="1624">15</text>
<text x="1880.0" y="1624">20</text>
</g>
<text x="980" y="1706" font-size="75.8">Time (min)</text>
<text transform="translate(80,1123) rotate(-90)" font-size="76.5">Frichtion coefficient</text>
</g>
<line x1="1385" y1="1096.4" x2="1538" y2="1096.4" stroke="#505050" stroke-width="15"/>
<line x1="1385" y1="1199.5" x2="1538" y2="1199.5" stroke="#EF3F3F" stroke-width="15"/>
<line x1="1385" y1="1302.5" x2="1538" y2="1302.5" stroke="#1A6EDE" stroke-width="15"/>
<line x1="1385" y1="1406" x2="1538" y2="1406" stroke="#37AC6A" stroke-width="15"/>
<g filter="url(#crisp)" font-size="77">
<text x="1553" y="1123.7">HEA</text>
<text x="1553" y="1226.7">10WC–HEA</text>
<text x="1553" y="1329.2">20WC–HEA</text>
<text x="1553" y="1433.7">30WC–HEA</text>
</g>
</svg></body></html>
